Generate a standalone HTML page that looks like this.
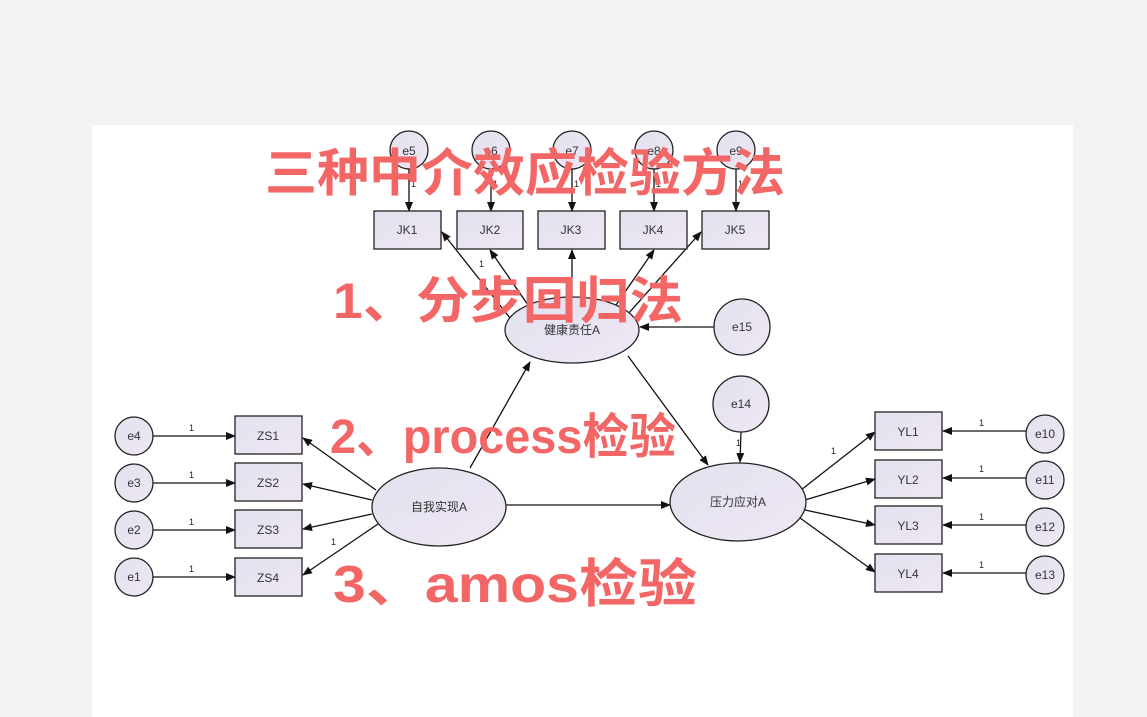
<!DOCTYPE html>
<html><head><meta charset="utf-8"><style>
body{margin:0;width:1147px;height:717px;overflow:hidden;background:#f3f3f3;}
svg{display:block}
.r{font-family:"Liberation Sans","Noto Sans CJK SC",sans-serif;font-weight:bold;fill:#f26666;}
.t{font-family:"Liberation Sans","Noto Sans CJK SC",sans-serif;font-size:12px;fill:#333;}
.s{font-family:"Liberation Sans",sans-serif;font-size:9px;fill:#222;}
</style></head><body>
<svg width="1147" height="717" xmlns="http://www.w3.org/2000/svg">
<defs>
<marker id="a" markerWidth="10" markerHeight="8" refX="9" refY="4" orient="auto" markerUnits="userSpaceOnUse"><path d="M0,0 L10,4 L0,8z" fill="#111"/></marker>
<linearGradient id="g" x1="0" y1="0" x2="1" y2="1"><stop offset="0" stop-color="#e2e2ee"/><stop offset="1" stop-color="#efe6f4"/></linearGradient>
</defs>
<rect x="92" y="125" width="981" height="592" fill="#fff"/>
<g stroke="#111" stroke-width="1.3" fill="none" marker-end="url(#a)">
<line x1="409" y1="169" x2="409" y2="211"/><line x1="491" y1="169" x2="491" y2="211"/><line x1="572" y1="169" x2="572" y2="211"/><line x1="654" y1="169" x2="654" y2="211"/><line x1="736" y1="169" x2="736" y2="211"/>
<line x1="510" y1="318" x2="442" y2="232"/><line x1="528" y1="305" x2="490" y2="250"/><line x1="572" y1="298" x2="572" y2="250"/><line x1="616" y1="305" x2="654" y2="250"/><line x1="628" y1="314" x2="701" y2="232"/>
<line x1="714" y1="327" x2="640" y2="327"/>
<line x1="153" y1="436" x2="235" y2="436"/><line x1="153" y1="483" x2="235" y2="483"/><line x1="153" y1="530" x2="235" y2="530"/><line x1="153" y1="577" x2="235" y2="577"/>
<line x1="376" y1="490" x2="303" y2="438"/><line x1="372" y1="500" x2="303" y2="484"/><line x1="372" y1="514" x2="303" y2="529"/><line x1="378" y1="524" x2="303" y2="575"/>
<line x1="470" y1="468" x2="530" y2="362"/><line x1="628" y1="356" x2="708" y2="465"/><line x1="506" y1="505" x2="670" y2="505"/>
<line x1="741" y1="432" x2="740" y2="462"/>
<line x1="801" y1="490" x2="875" y2="432"/><line x1="805" y1="500" x2="875" y2="479"/><line x1="805" y1="510" x2="875" y2="525"/><line x1="800" y1="518" x2="875" y2="572"/>
<line x1="1026" y1="431" x2="943" y2="431"/><line x1="1026" y1="478" x2="943" y2="478"/><line x1="1026" y1="525" x2="943" y2="525"/><line x1="1026" y1="573" x2="943" y2="573"/>
</g>
<g stroke="#222" stroke-width="1.3" fill="url(#g)">
<rect x="374" y="211" width="67" height="38"/><rect x="457" y="211" width="66" height="38"/><rect x="538" y="211" width="67" height="38"/><rect x="620" y="211" width="67" height="38"/><rect x="702" y="211" width="67" height="38"/>
<circle cx="409" cy="150" r="19"/><circle cx="491" cy="150" r="19"/><circle cx="572" cy="150" r="19"/><circle cx="654" cy="150" r="19"/><circle cx="736" cy="150" r="19"/>
<ellipse cx="572" cy="330" rx="67" ry="33"/><circle cx="742" cy="327" r="28"/><circle cx="741" cy="404" r="28"/>
<rect x="235" y="416" width="67" height="38"/><rect x="235" y="463" width="67" height="38"/><rect x="235" y="510" width="67" height="38"/><rect x="235" y="558" width="67" height="38"/>
<circle cx="134" cy="436" r="19"/><circle cx="134" cy="483" r="19"/><circle cx="134" cy="530" r="19"/><circle cx="134" cy="577" r="19"/>
<ellipse cx="439" cy="507" rx="67" ry="39"/><ellipse cx="738" cy="502" rx="68" ry="39"/>
<rect x="875" y="412" width="67" height="38"/><rect x="875" y="460" width="67" height="38"/><rect x="875" y="506" width="67" height="38"/><rect x="875" y="554" width="67" height="38"/>
<circle cx="1045" cy="434" r="19"/><circle cx="1045" cy="480" r="19"/><circle cx="1045" cy="527" r="19"/><circle cx="1045" cy="575" r="19"/>
</g>
<g class="t" text-anchor="middle">
<text x="407" y="234">JK1</text><text x="490" y="234">JK2</text><text x="571" y="234">JK3</text><text x="653" y="234">JK4</text><text x="735" y="234">JK5</text>
<text x="409" y="155">e5</text><text x="491" y="155">e6</text><text x="572" y="155">e7</text><text x="654" y="155">e8</text><text x="736" y="155">e9</text>
<text x="572" y="334">健康责任A</text><text x="742" y="331">e15</text><text x="741" y="408">e14</text>
<text x="268" y="440">ZS1</text><text x="268" y="487">ZS2</text><text x="268" y="534">ZS3</text><text x="268" y="582">ZS4</text>
<text x="134" y="440">e4</text><text x="134" y="487">e3</text><text x="134" y="534">e2</text><text x="134" y="581">e1</text>
<text x="439" y="511">自我实现A</text><text x="738" y="506">压力应对A</text>
<text x="908" y="436">YL1</text><text x="908" y="484">YL2</text><text x="908" y="530">YL3</text><text x="908" y="578">YL4</text>
<text x="1045" y="438">e10</text><text x="1045" y="484">e11</text><text x="1045" y="531">e12</text><text x="1045" y="579">e13</text>
</g>
<g class="s">
<text x="189" y="431">1</text><text x="189" y="478">1</text><text x="189" y="525">1</text><text x="189" y="572">1</text>
<text x="331" y="545">1</text><text x="479" y="267">1</text><text x="736" y="446">1</text><text x="831" y="454">1</text>
<text x="979" y="426">1</text><text x="979" y="472">1</text><text x="979" y="520">1</text><text x="979" y="568">1</text>
<text x="411" y="187">1</text><text x="493" y="187">1</text><text x="574" y="187">1</text><text x="656" y="187">1</text><text x="738" y="187">1</text>
</g>
<text class="r" x="265" y="191" font-size="51" textLength="520" lengthAdjust="spacingAndGlyphs">三种中介效应检验方法</text>
<text class="r" x="333" y="318" font-size="50" textLength="350" lengthAdjust="spacingAndGlyphs">1、分步回归法</text>
<text class="r" x="330" y="453" font-size="48" textLength="346" lengthAdjust="spacingAndGlyphs">2、process检验</text>
<text class="r" x="333" y="602" font-size="52" textLength="364" lengthAdjust="spacingAndGlyphs">3、amos检验</text>
</svg>
</body></html>
